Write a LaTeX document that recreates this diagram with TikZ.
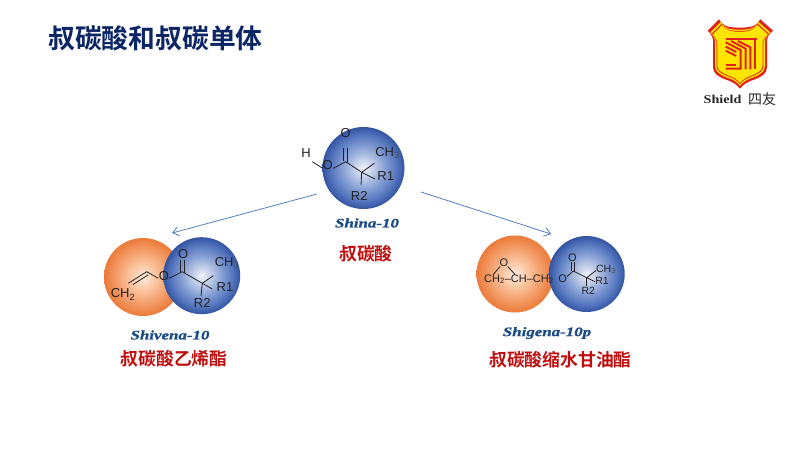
\documentclass[tikz,border=0pt]{standalone}
\usepackage{fontspec}
\setmainfont{Liberation Sans}
\newfontfamily\cjkb[BoldFont={Noto Sans CJK SC Bold}]{Noto Sans CJK SC}
\newfontfamily\brandw[FakeStretch=1.3,FakeBold=1.2]{Liberation Serif Bold Italic}
\newfontfamily\logofont[FakeStretch=1.18]{Liberation Serif Bold}
\usetikzlibrary{arrows.meta}
\definecolor{navy}{HTML}{0B2566}
\definecolor{lblred}{HTML}{C00D0D}
\definecolor{arrowblue}{HTML}{4F81BD}
\definecolor{brandblue}{HTML}{1C4C86}
\definecolor{bondk}{HTML}{222222}
\definecolor{bsA}{HTML}{F0F3F9}\definecolor{bsB}{HTML}{B7C6E4}\definecolor{bsC}{HTML}{7F9AD2}\definecolor{bsD}{HTML}{5677BE}\definecolor{bsE}{HTML}{3354A2}
\definecolor{osA}{HTML}{FDEBDD}\definecolor{osB}{HTML}{FBC7A3}\definecolor{osC}{HTML}{F4A26F}\definecolor{osD}{HTML}{EB7B3A}
\pgfdeclareradialshading{blueball}{\pgfpointorigin}{color(0bp)=(bsA); color(7bp)=(bsB); color(14bp)=(bsC); color(20bp)=(bsD); color(25bp)=(bsE); color(50bp)=(bsE)}
\pgfdeclareradialshading{orangeball}{\pgfpointorigin}{color(0bp)=(osA); color(8bp)=(osB); color(16bp)=(osC); color(25bp)=(osD); color(50bp)=(osD)}
\definecolor{logored}{HTML}{E0201B}
\definecolor{logoyel}{HTML}{FFE600}
\newcommand{\subthree}{\textsubscript{\textcolor{black!70}{3}}}
\tikzset{
  blueb/.style={circle,inner sep=0pt,minimum size=#1,shading=blueball},
  orangeb/.style={circle,inner sep=0pt,minimum size=#1,shading=orangeball},
  atom/.style={inner sep=0pt,text=bondk,font=\fontsize{#1}{#1}\selectfont},
  atom/.default=13,
  bond/.style={draw=bondk,line width=0.8pt},
  conn/.style={draw=arrowblue,line width=0.8pt,-{Straight Barb[length=6pt,width=9pt]}},
  titletext/.style={inner sep=0pt,text=navy,font=\fontsize{26.8}{30}\selectfont\cjkb\bfseries},
  cnlabel/.style={inner sep=0pt,text=lblred,font=\fontsize{17.8}{20}\selectfont\cjkb\bfseries},
  brandlabel/.style={inner sep=0pt,text=brandblue,font=\fontsize{13}{14}\selectfont\brandw},
  stripe/.style={draw=logored,line width=1.9pt,line cap=butt,line join=miter}
}
\newcommand{\shieldpath}{(38,62) -- (72,28) .. controls (80,40) and (88,48) .. (100,50) .. controls (120,54) and (150,54) .. (168,50) .. controls (180,48) and (188,40) .. (196,28) -- (234,62) .. controls (222,72) and (216,82) .. (216,92) -- (216,172) .. controls (216,190) and (200,200) .. (180,208) .. controls (160,214) and (146,222) .. (135,236) .. controls (124,222) and (110,214) .. (90,208) .. controls (70,200) and (54,190) .. (54,172) -- (54,92) .. controls (54,82) and (48,72) .. (38,62) -- cycle}
\begin{document}
\begin{tikzpicture}[x=1pt,y=-1pt]
\useasboundingbox (0,0) rectangle (800,450);
\fill[white] (0,0) rectangle (800,450);

\node[titletext,anchor=west] (title) at (48,38) {叔碳酸和叔碳单体};

% logo
\begin{scope}[shift={(695,10)},x=0.3333pt,y=-0.3333pt]
  \fill[logored] \shieldpath;
  \begin{scope}[shift={(135,130)},scale=0.92,shift={(-135,-130)}]
    \fill[logoyel] \shieldpath;
  \end{scope}
  \begin{scope}[shift={(135,130)},scale=0.87,shift={(-135,-130)}]
    \fill[logored] \shieldpath;
  \end{scope}
  \begin{scope}[shift={(135,130)},scale=0.84,shift={(-135,-130)}]
    \fill[logoyel] \shieldpath;
  \end{scope}
  \draw[stripe] (92,87) -- (185,87);
  \draw[stripe] (180,87) -- (180,178);
  \draw[stripe] (128,93) -- (166,112) -- (166,178);
  \draw[stripe] (108,93) -- (152,116) -- (152,178);
  \draw[stripe] (92,97) -- (137,120) -- (137,176) -- (92,176);
  \draw[stripe] (92,110) -- (124,126);
  \draw[stripe] (92,122) -- (124,138);
  \draw[stripe] (92,164) -- (124,164);
\end{scope}
\node[inner sep=0pt,text=black!85,font=\fontsize{12}{12}\selectfont\logofont,anchor=west] (logoen) at (703.5,99) {Shield};
\node[inner sep=0pt,text=black!85,font=\fontsize{14}{14}\selectfont\cjkb,anchor=west] (logocn) at (748,99) {四友};

% balls
\node[blueb=82pt] (bc) at (363.5,168) {};
\node[orangeb=78pt] (ol) at (143,277) {};
\node[blueb=77pt] (bl) at (201.7,275.7) {};
\node[orangeb=77pt] (or) at (515,274) {};
\node[blueb=76pt] (br) at (586.7,274) {};

% connectors
\coordinate (a1) at (317,194);
\coordinate (a2) at (172,233);
\coordinate (b1) at (421,192);
\coordinate (b2) at (551,234);
\draw[conn] (a1) -- (a2);
\draw[conn] (b1) -- (b2);

% centre molecule
\node[atom] (cH) at (306,153) {H};
\node[atom] (cO) at (327.7,165.5) {O};
\node[atom] (cOt) at (345.7,133.3) {O};
\node[atom] (cCH) at (387.5,153) {CH\subthree};
\node[atom] (cR1) at (385.7,176) {R1};
\node[atom] (cR2) at (359.3,196) {R2};
\draw[bond] (312.3,161.7) -- (322.7,168.3);
\draw[bond] (333.3,168.3) -- (345.7,161.7) -- (361.7,172.3) -- (374.3,163.3);
\draw[bond] (343.5,161) -- (343.5,148.3) (347.5,162) -- (347.5,148.3);
\draw[bond] (361.7,172.3) -- (375,179);
\draw[bond] (361.7,172.3) -- (361,185);
\node[brandlabel] (lb1) at (367,223) {Shina-10};
\node[cnlabel] (cn1) at (366,254) {叔碳酸};

% left molecule
\node[atom] (lCH2) at (123,294.5) {CH\textsubscript{2}};
\node[atom] (lO) at (164,275.7) {O};
\node[atom] (lOt) at (183.3,254) {O};
\node[atom] (lCH) at (227,263) {CH\subthree};
\node[atom] (lR1) at (225,286.7) {R1};
\node[atom] (lR2) at (202.3,302.7) {R2};
\draw[bond] (128.3,283.3) -- (146.7,271.7) -- (158.3,278.3);
\draw[bond] (133,284.5) -- (148,275);
\draw[bond] (169,278.3) -- (182.3,271.7) -- (202.3,283.3) -- (213.3,275.7);
\draw[bond] (180.8,272) -- (180.8,260) (184.5,272.5) -- (184.5,260);
\draw[bond] (202.3,283.3) -- (212.3,289);
\draw[bond] (202.3,283.3) -- (201,296);
\node[brandlabel] (lb2) at (170,335) {Shivena-10};
\node[cnlabel] (cn2) at (174,358.5) {叔碳酸乙烯酯};

% right molecule
\node[atom=11] (rO) at (504,262.3) {O};
\node[atom=11,anchor=west] (rCH) at (484,279) {CH\textsubscript{2}–CH–CH\textsubscript{2}};
\node[atom=11] (rO2) at (562.7,278.5) {O};
\node[atom=11] (rOt) at (572.3,257.3) {O};
\node[atom=10.5] (rCH3) at (606,269.3) {CH\subthree};
\node[atom=10.5] (rR1) at (602,281) {R1};
\node[atom=10.5] (rR2) at (588.3,291) {R2};
\draw[bond] (500,266.5) -- (493.3,274.5);
\draw[bond] (507.7,266.5) -- (515,274.5);
\draw[bond] (567,276.5) -- (573.3,271) -- (586.7,277.7) -- (596,270.5);
\draw[bond] (571,271) -- (571,262) (574.5,271.5) -- (574.5,262);
\draw[bond] (586.7,277.7) -- (595,281.7);
\draw[bond] (586.7,277.7) -- (586.7,286);
\node[brandlabel] (lb3) at (547,333) {Shigena-10p};
\node[cnlabel] (cn3) at (560.5,360) {叔碳酸缩水甘油酯};
\end{tikzpicture}
\end{document}
